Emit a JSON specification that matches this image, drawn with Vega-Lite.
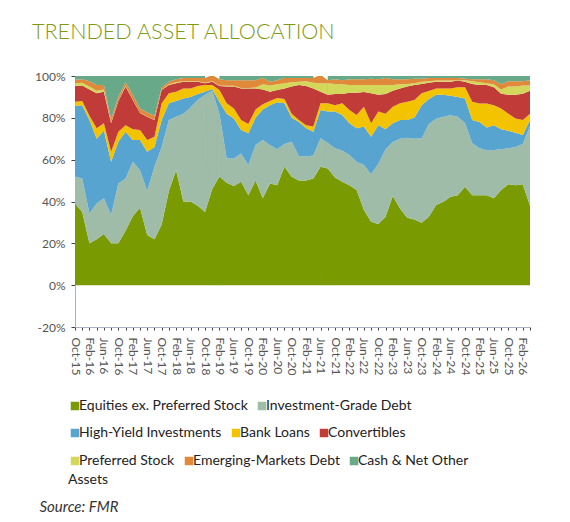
{
  "$schema": "https://vega.github.io/schema/vega-lite/v6.json",
  "width": 455,
  "height": 251,
  "autosize": "none",
  "padding": {"left": 75, "top": 76, "right": 40, "bottom": 195},
  "title": {
    "text": "TRENDED ASSET ALLOCATION",
    "anchor": "start",
    "frame": "group",
    "dx": -43,
    "offset": 26,
    "font": "Lato",
    "fontSize": 21.6,
    "fontWeight": 300,
    "color": "#7F9A12"
  },
  "datasets": {
    "series": [
      {"k": "eq", "name": "Equities ex. Preferred Stock", "o": 1, "g": 1},
      {"k": "ig", "name": "Investment-Grade Debt", "o": 2, "g": 1},
      {"k": "hy", "name": "High-Yield Investments", "o": 3, "g": 2},
      {"k": "bl", "name": "Bank Loans", "o": 4, "g": 2},
      {"k": "cv", "name": "Convertibles", "o": 5, "g": 2},
      {"k": "pf", "name": "Preferred Stock", "o": 6, "g": 3},
      {"k": "em", "name": "Emerging-Markets Debt", "o": 7, "g": 3},
      {"k": "ca", "name": "Cash & Net Other Assets", "o": 8, "g": 3}
    ]
  },
  "data": {
    "values": [
      {"d": "Oct-15", "eq": 39, "ig": 13, "hy": 33.6, "bl": 2.1, "cv": 7.5, "pf": 1.3, "em": 1.7, "ca": 1.8},
      {"d": "Dec-15", "eq": 35, "ig": 16, "hy": 35, "bl": 2, "cv": 7.5, "pf": 1.3, "em": 1.6, "ca": 1.6},
      {"d": "Feb-16", "eq": 20, "ig": 14.3, "hy": 44.7, "bl": 2, "cv": 12.5, "pf": 1.5, "em": 2.5, "ca": 2.5},
      {"d": "Apr-16", "eq": 22, "ig": 17, "hy": 31, "bl": 5, "cv": 16.7, "pf": 1.3, "em": 2.7, "ca": 4.3},
      {"d": "Jun-16", "eq": 24.5, "ig": 17, "hy": 32.5, "bl": 3.4, "cv": 15.1, "pf": 1.1, "em": 2.1, "ca": 4.3},
      {"d": "Aug-16", "eq": 20, "ig": 13.5, "hy": 25.5, "bl": 4.8, "cv": 13.6, "pf": 0.2, "em": 1.9, "ca": 20.5},
      {"d": "Oct-16", "eq": 20, "ig": 28.6, "hy": 20, "bl": 4.8, "cv": 14.6, "pf": 0.2, "em": 1.8, "ca": 10},
      {"d": "Dec-16", "eq": 26, "ig": 25, "hy": 22.4, "bl": 3.1, "cv": 18.5, "pf": 0.5, "em": 1.5, "ca": 3},
      {"d": "Feb-17", "eq": 33, "ig": 26, "hy": 10.4, "bl": 5.1, "cv": 14, "pf": 0.1, "em": 2.4, "ca": 9},
      {"d": "Apr-17", "eq": 37, "ig": 18, "hy": 14.4, "bl": 4.8, "cv": 8.1, "pf": 0.1, "em": 2.1, "ca": 15.5},
      {"d": "Jun-17", "eq": 24, "ig": 21, "hy": 18.8, "bl": 5.6, "cv": 11.1, "pf": 0.1, "em": 1.9, "ca": 17.5},
      {"d": "Aug-17", "eq": 22, "ig": 34.6, "hy": 9.4, "bl": 5, "cv": 8, "pf": 0.1, "em": 1.9, "ca": 19},
      {"d": "Oct-17", "eq": 29, "ig": 37, "hy": 13, "bl": 8, "cv": 6.3, "pf": 0.1, "em": 1.1, "ca": 5.5},
      {"d": "Dec-17", "eq": 45, "ig": 34, "hy": 8, "bl": 4.7, "cv": 4, "pf": 0.3, "em": 1.3, "ca": 2.7},
      {"d": "Feb-18", "eq": 55, "ig": 25.5, "hy": 7.5, "bl": 4.5, "cv": 4, "pf": 0.5, "em": 1.4, "ca": 1.6},
      {"d": "Apr-18", "eq": 40, "ig": 42, "hy": 7.3, "bl": 4.7, "cv": 3.3, "pf": 0.2, "em": 1.5, "ca": 1},
      {"d": "Jun-18", "eq": 40, "ig": 45, "hy": 5, "bl": 4, "cv": 3.3, "pf": 0.2, "em": 1.5, "ca": 1},
      {"d": "Aug-18", "eq": 38, "ig": 50.5, "hy": 2.9, "bl": 3.8, "cv": 2.1, "pf": 0.2, "em": 1.5, "ca": 1},
      {"d": "Oct-18", "eq": 35, "ig": 56, "hy": 1.5, "bl": 3.2, "cv": 0.8, "pf": 0.3, "em": 2.2, "ca": 1},
      {"d": "Dec-18", "eq": 46, "ig": 47, "hy": 0.8, "bl": 1.9, "cv": 1.5, "pf": 0.3, "em": 3, "ca": -0.5},
      {"d": "Feb-19", "eq": 52, "ig": 30, "hy": 5.7, "bl": 5.6, "cv": 1.9, "pf": 0.3, "em": 2.9, "ca": 1.6},
      {"d": "Apr-19", "eq": 49, "ig": 11.6, "hy": 21.4, "bl": 5, "cv": 8, "pf": 0.3, "em": 2.7, "ca": 2},
      {"d": "Jun-19", "eq": 47.4, "ig": 13.2, "hy": 19.1, "bl": 4.8, "cv": 10.5, "pf": 0.3, "em": 2.7, "ca": 2},
      {"d": "Aug-19", "eq": 49.4, "ig": 13.6, "hy": 11.2, "bl": 4.8, "cv": 15, "pf": 0.3, "em": 3.7, "ca": 2},
      {"d": "Oct-19", "eq": 43, "ig": 14.4, "hy": 15.2, "bl": 4.4, "cv": 17, "pf": 0.3, "em": 3.7, "ca": 2},
      {"d": "Dec-19", "eq": 50, "ig": 17, "hy": 13, "bl": 4, "cv": 10, "pf": 0.5, "em": 3.5, "ca": 2},
      {"d": "Feb-20", "eq": 41.5, "ig": 27.9, "hy": 14.6, "bl": 2.5, "cv": 7.1, "pf": 2.4, "em": 3, "ca": 1},
      {"d": "Apr-20", "eq": 48.6, "ig": 18.4, "hy": 19, "bl": 2, "cv": 4.5, "pf": 3, "em": 1.8, "ca": 2.7},
      {"d": "Jun-20", "eq": 47.8, "ig": 17.2, "hy": 22.5, "bl": 2, "cv": 3.8, "pf": 2.7, "em": 2, "ca": 2},
      {"d": "Aug-20", "eq": 56.6, "ig": 10.9, "hy": 19.5, "bl": 2, "cv": 5, "pf": 2.5, "em": 2.5, "ca": 1},
      {"d": "Oct-20", "eq": 51.8, "ig": 16.8, "hy": 11.4, "bl": 2, "cv": 13, "pf": 2, "em": 2, "ca": 1},
      {"d": "Dec-20", "eq": 50, "ig": 11.7, "hy": 16.3, "bl": 1, "cv": 16.7, "pf": 1.6, "em": 1.7, "ca": 1},
      {"d": "Feb-21", "eq": 50, "ig": 11.5, "hy": 13.5, "bl": 1.5, "cv": 18.7, "pf": 2.3, "em": 1.5, "ca": 1},
      {"d": "Apr-21", "eq": 51, "ig": 11, "hy": 11.4, "bl": 2.4, "cv": 18.2, "pf": 2.8, "em": 2.2, "ca": 1},
      {"d": "Jun-21", "eq": 56.6, "ig": 13.6, "hy": 13.5, "bl": 3.3, "cv": 5.5, "pf": 4, "em": 4.1, "ca": -0.6},
      {"d": "Aug-21", "eq": 55.8, "ig": 12.2, "hy": 15, "bl": 4, "cv": 4, "pf": 5.5, "em": 1.5, "ca": 2},
      {"d": "Oct-21", "eq": 51.5, "ig": 13.9, "hy": 17.6, "bl": 3, "cv": 5.4, "pf": 4.8, "em": 2.2, "ca": 1.6},
      {"d": "Dec-21", "eq": 49.4, "ig": 15, "hy": 16.9, "bl": 5.7, "cv": 4.4, "pf": 4.6, "em": 2, "ca": 2},
      {"d": "Feb-22", "eq": 47.8, "ig": 14.4, "hy": 15.2, "bl": 6.3, "cv": 8.3, "pf": 3.7, "em": 2.8, "ca": 1.5},
      {"d": "Apr-22", "eq": 45.5, "ig": 13.5, "hy": 16, "bl": 6.3, "cv": 10.7, "pf": 3.7, "em": 2.8, "ca": 1.5},
      {"d": "Jun-22", "eq": 35.9, "ig": 21.6, "hy": 18.3, "bl": 9.5, "cv": 7, "pf": 3.4, "em": 2.8, "ca": 1.5},
      {"d": "Aug-22", "eq": 30.3, "ig": 22.7, "hy": 18, "bl": 6.4, "cv": 14.3, "pf": 4, "em": 3, "ca": 1.3},
      {"d": "Oct-22", "eq": 29.3, "ig": 28.7, "hy": 18.5, "bl": 6.5, "cv": 8, "pf": 4.7, "em": 2.8, "ca": 1.5},
      {"d": "Dec-22", "eq": 32.7, "ig": 32.3, "hy": 9.5, "bl": 7.5, "cv": 9.4, "pf": 4.3, "em": 3.3, "ca": 1},
      {"d": "Feb-23", "eq": 42.6, "ig": 25.9, "hy": 8.9, "bl": 7.9, "cv": 7.7, "pf": 2.7, "em": 2.7, "ca": 1.6},
      {"d": "Apr-23", "eq": 36.7, "ig": 33.3, "hy": 9, "bl": 8, "cv": 7, "pf": 2, "em": 2.4, "ca": 1.6},
      {"d": "Jun-23", "eq": 32.2, "ig": 38.3, "hy": 8.5, "bl": 8.7, "cv": 7.3, "pf": 1.2, "em": 2.2, "ca": 1.6},
      {"d": "Aug-23", "eq": 31.4, "ig": 38.6, "hy": 10.2, "bl": 8.3, "cv": 7.2, "pf": 0.8, "em": 2.2, "ca": 1.3},
      {"d": "Oct-23", "eq": 29.8, "ig": 40.4, "hy": 15.8, "bl": 5.7, "cv": 4.5, "pf": 1.1, "em": 1.4, "ca": 1.3},
      {"d": "Dec-23", "eq": 32.7, "ig": 44.3, "hy": 12, "bl": 3.8, "cv": 4, "pf": 0.7, "em": 1.5, "ca": 1},
      {"d": "Feb-24", "eq": 38.3, "ig": 41.3, "hy": 11.4, "bl": 3, "cv": 3.3, "pf": 0.5, "em": 1.2, "ca": 1},
      {"d": "Apr-24", "eq": 39.9, "ig": 40.6, "hy": 10.5, "bl": 3, "cv": 3.3, "pf": 0.5, "em": 1.2, "ca": 1},
      {"d": "Jun-24", "eq": 42.3, "ig": 38.9, "hy": 9.4, "bl": 3.4, "cv": 3.3, "pf": 0.5, "em": 1.2, "ca": 1},
      {"d": "Aug-24", "eq": 43, "ig": 37.5, "hy": 9.5, "bl": 4.6, "cv": 3.2, "pf": 0.2, "em": 1, "ca": 1},
      {"d": "Oct-24", "eq": 47, "ig": 30.5, "hy": 11.8, "bl": 5.3, "cv": 2.7, "pf": 0.7, "em": 0.7, "ca": 1.3},
      {"d": "Dec-24", "eq": 43, "ig": 24.8, "hy": 11.2, "bl": 8.7, "cv": 8.5, "pf": 1.3, "em": 1, "ca": 1.5},
      {"d": "Feb-25", "eq": 43, "ig": 22.4, "hy": 12.6, "bl": 8.9, "cv": 8.8, "pf": 1.3, "em": 1.5, "ca": 1.5},
      {"d": "Apr-25", "eq": 43, "ig": 21.5, "hy": 10.9, "bl": 11.5, "cv": 8.8, "pf": 0.8, "em": 2, "ca": 1.5},
      {"d": "Jun-25", "eq": 41.5, "ig": 23.1, "hy": 11.9, "bl": 9.5, "cv": 8.6, "pf": 1.4, "em": 2, "ca": 2},
      {"d": "Aug-25", "eq": 45.5, "ig": 19.5, "hy": 9.5, "bl": 10, "cv": 7, "pf": 2, "em": 2.5, "ca": 4},
      {"d": "Oct-25", "eq": 48.3, "ig": 17.1, "hy": 8.4, "bl": 8.2, "cv": 9, "pf": 4, "em": 2.5, "ca": 2.5},
      {"d": "Dec-25", "eq": 47.8, "ig": 18.2, "hy": 6.9, "bl": 6.8, "cv": 11.3, "pf": 4, "em": 2.5, "ca": 2.5},
      {"d": "Feb-26", "eq": 48.3, "ig": 19.2, "hy": 4.3, "bl": 7.2, "cv": 12.5, "pf": 4, "em": 2, "ca": 2.5},
      {"d": "Apr-26", "eq": 38, "ig": 38, "hy": 3, "bl": 3, "cv": 11, "pf": 2.5, "em": 2.5, "ca": 2}
    ]
  },
  "transform": [
    {"fold": ["eq", "ig", "hy", "bl", "cv", "pf", "em", "ca"], "as": ["k", "v"]},
    {"lookup": "k", "from": {"data": {"name": "series"}, "key": "k", "fields": ["name", "o", "g"]}},
    {"stack": "v", "groupby": ["d"], "sort": [{"field": "o", "order": "ascending"}], "as": ["v0", "v1"]}
  ],
  "encoding": {
    "x": {
      "field": "d",
      "type": "ordinal",
      "sort": null,
      "scale": {"type": "point", "padding": 0},
      "axis": {
        "labelAngle": 90,
        "labelExpr": "indexof(['Oct', 'Feb', 'Jun'], slice(datum.label, 0, 3)) >= 0 ? datum.label : ''",
        "labelOverlap": false,
        "labelFont": "Lato",
        "labelFontSize": 12,
        "labelColor": "#555555",
        "labelPadding": 7,
        "tickSize": 3,
        "tickColor": "#444444",
        "domainColor": "#A9B3C6",
        "title": "Source: FMR",
        "titleFont": "Lato",
        "titleFontStyle": "italic",
        "titleFontWeight": "normal",
        "titleFontSize": 15,
        "titleColor": "#333333",
        "titleAlign": "left",
        "titleAnchor": "start",
        "titleBaseline": "alphabetic",
        "titleX": -36,
        "titleY": 184
      }
    },
    "y": {
      "field": "v1",
      "type": "quantitative",
      "scale": {"domain": [-20, 100]},
      "axis": {
        "values": [-20, 0, 20, 40, 60, 80, 100],
        "labelExpr": "datum.value + '%'",
        "grid": false,
        "labelFont": "Lato",
        "labelFontSize": 12,
        "labelColor": "#555555",
        "labelPadding": 6,
        "tickSize": 4,
        "tickColor": "#444444",
        "domainColor": "#A9B3C6",
        "title": null
      }
    },
    "y2": {"field": "v0"}
  },
  "layer": [
    {
      "transform": [{"filter": "datum.g == 1"}],
      "mark": {"type": "area", "clip": true, "opacity": 1},
      "encoding": {
        "color": {
          "field": "name",
          "type": "nominal",
          "scale": {
            "domain": ["Equities ex. Preferred Stock", "Investment-Grade Debt"],
            "range": ["#7A9A01", "#9EBCA8"]
          },
          "legend": {
            "orient": "none", "legendX": -7, "legendY": 323, "direction": "horizontal",
            "title": null, "symbolType": "square", "symbolSize": 72, "symbolStrokeWidth": 0,
            "labelFont": "Lato", "labelFontSize": 14, "labelColor": "#222222",
            "labelOffset": -3, "columnPadding": 7, "padding": 0, "labelLimit": 0
          }
        }
      }
    },
    {
      "transform": [{"filter": "datum.g == 2"}],
      "mark": {"type": "area", "clip": true, "opacity": 1},
      "encoding": {
        "color": {
          "field": "name",
          "type": "nominal",
          "scale": {
            "domain": ["High-Yield Investments", "Bank Loans", "Convertibles"],
            "range": ["#56A4CF", "#F3C300", "#C13B38"]
          },
          "legend": {
            "orient": "none", "legendX": -7, "legendY": 350, "direction": "horizontal",
            "title": null, "symbolType": "square", "symbolSize": 72, "symbolStrokeWidth": 0,
            "labelFont": "Lato", "labelFontSize": 14, "labelColor": "#222222",
            "labelOffset": -3, "columnPadding": 7, "padding": 0, "labelLimit": 0
          }
        }
      }
    },
    {
      "transform": [{"filter": "datum.g == 3"}],
      "mark": {"type": "area", "clip": true, "opacity": 1},
      "encoding": {
        "color": {
          "field": "name",
          "type": "nominal",
          "scale": {
            "domain": ["Preferred Stock", "Emerging-Markets Debt", "Cash & Net Other Assets"],
            "range": ["#D3D85B", "#E0893A", "#68A98A"]
          },
          "legend": {
            "orient": "none", "legendX": -7, "legendY": 378, "direction": "horizontal",
            "title": "Assets", "titleOrient": "bottom", "titleAnchor": "start",
            "titleFont": "Lato", "titleFontSize": 14, "titleFontWeight": "normal", "titleColor": "#222222",
            "titlePadding": 5,
            "labelExpr": "datum.label == 'Cash & Net Other Assets' ? 'Cash & Net Other' : datum.label",
            "symbolType": "square", "symbolSize": 72, "symbolStrokeWidth": 0,
            "labelFont": "Lato", "labelFontSize": 14, "labelColor": "#222222",
            "labelOffset": -3, "columnPadding": 7, "padding": 0, "labelLimit": 0
          }
        }
      }
    }
  ],
  "resolve": {"scale": {"color": "independent"}, "legend": {"color": "independent"}},
  "config": {"view": {"stroke": null}, "font": "Lato"}
}
